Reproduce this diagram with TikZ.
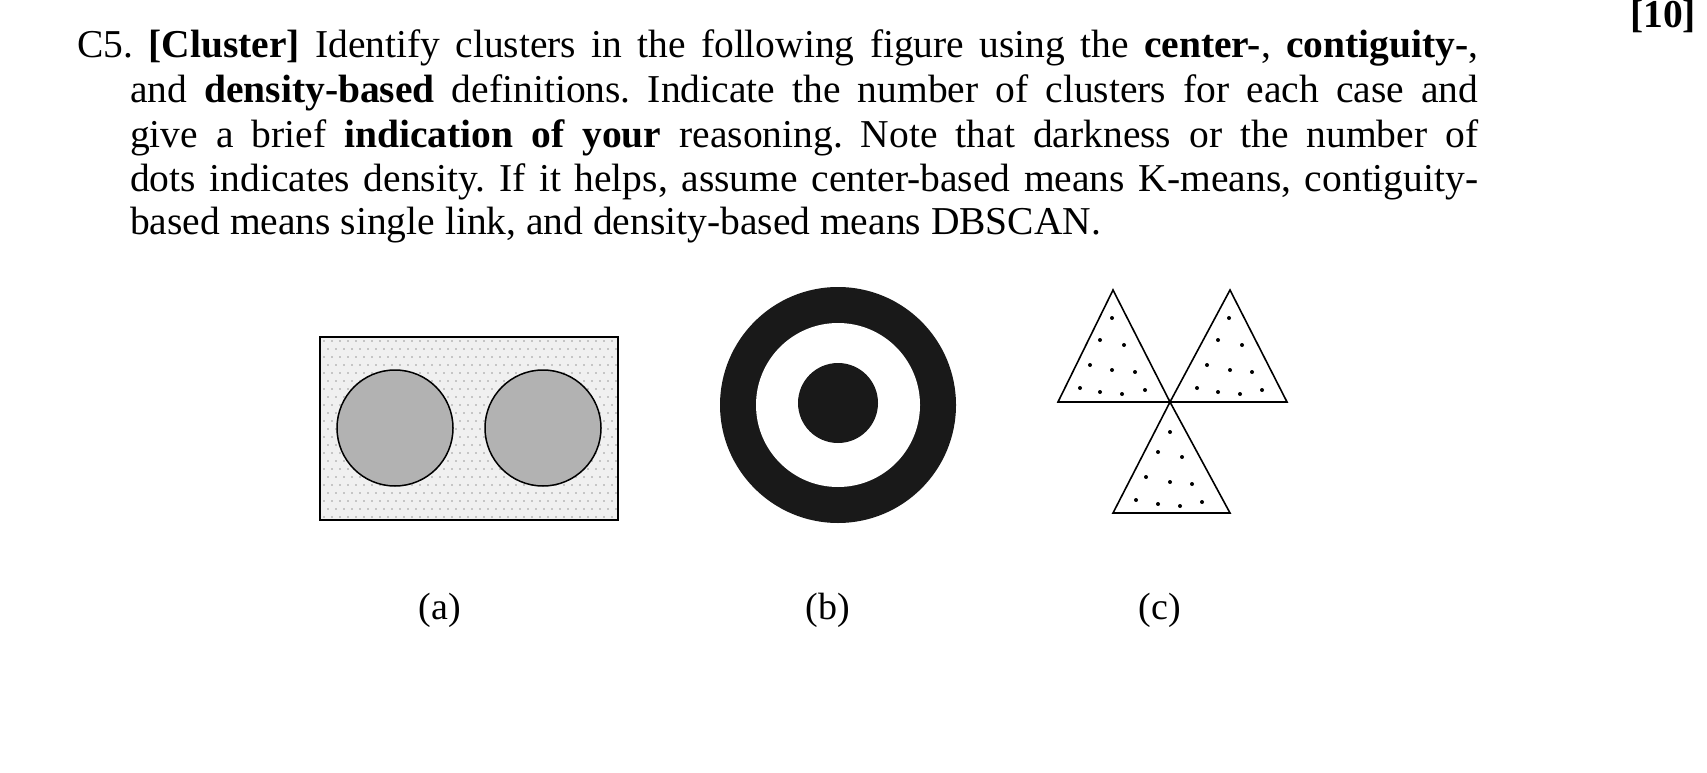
\documentclass[tikz,border=0pt]{standalone}
\usepackage{fontspec}
\setmainfont{Liberation Serif}
\usetikzlibrary{patterns}
\begin{document}
\frenchspacing
\begin{tikzpicture}[x=1pt,y=-1pt,
  txt/.style={anchor=base west,inner sep=0pt,font=\fontsize{39.5}{42}\selectfont},
  lab/.style={inner sep=0pt,font=\fontsize{38}{42}\selectfont},
  tri/.style={draw,line width=1.6pt,fill=white}]
\useasboundingbox (0,0) rectangle (1707,773);
\node[txt] (l0) at (1630,28) {\textbf{[10]}};
\node[txt] (l1) at (77,58) {\hbox to 1401pt{C5. \textbf{[Cluster]} Identify clusters in the following figure using the \textbf{center-}, \textbf{contiguity-},}};
\node[txt] (l2) at (130,103) {\hbox to 1348pt{and \textbf{density-based} definitions. Indicate the number of clusters for each case and}};
\node[txt] (l3) at (130,147) {\hbox to 1348pt{give a brief \textbf{indication of your} reasoning. Note that darkness or the number of}};
\node[txt] (l4) at (130,191) {\hbox to 1348pt{dots indicates density. If it helps, assume center-based means K-means, contiguity-}};
\node[txt] (l5) at (130,234) {based means single link, and density-based means DBSCAN.};
% (a)
\fill[gray!12] (320,337) rectangle (618,520);
\foreach \i in {0,...,36} \foreach \j in {0,...,22}
  \fill[gray!80] ({324+8*\i+mod(\j,2)*4},{341+8*\j}) circle (0.9);
\draw[line width=1.5pt] (320,337) rectangle (618,520);
\draw[line width=1.5pt,fill=gray!60] (395,428) circle (58);
\draw[line width=1.5pt,fill=gray!60] (543,428) circle (58);
% (b)
\fill[black!90] (838,405) circle (118);
\fill[white] (838,405) circle (82);
\fill[black!90] (838,403) circle (40);
% (c)
\draw[tri] (1113,290) -- (1058,402) -- (1170,402) -- cycle;
\draw[tri] (1230,290) -- (1170,402) -- (1287,402) -- cycle;
\draw[tri] (1170,402) -- (1113,513) -- (1230,513) -- cycle;
\foreach \p in {(1112,318),(1100,340),(1124,345),(1090,365),(1112,370),(1135,372),(1080,388),(1100,392),(1122,394),(1145,390),
  (1229,318),(1218,340),(1242,345),(1207,365),(1230,370),(1252,372),(1197,388),(1218,392),(1240,394),(1262,390),
  (1170,432),(1158,452),(1182,457),(1146,477),(1170,482),(1192,484),(1136,500),(1158,504),(1180,506),(1202,502)}
  \fill \p circle (2);
\node[lab] (a) at (440,610) {(a)};
\node[lab] (b) at (828,610) {(b)};
\node[lab] (c) at (1160,610) {(c)};
\end{tikzpicture}
\end{document}
